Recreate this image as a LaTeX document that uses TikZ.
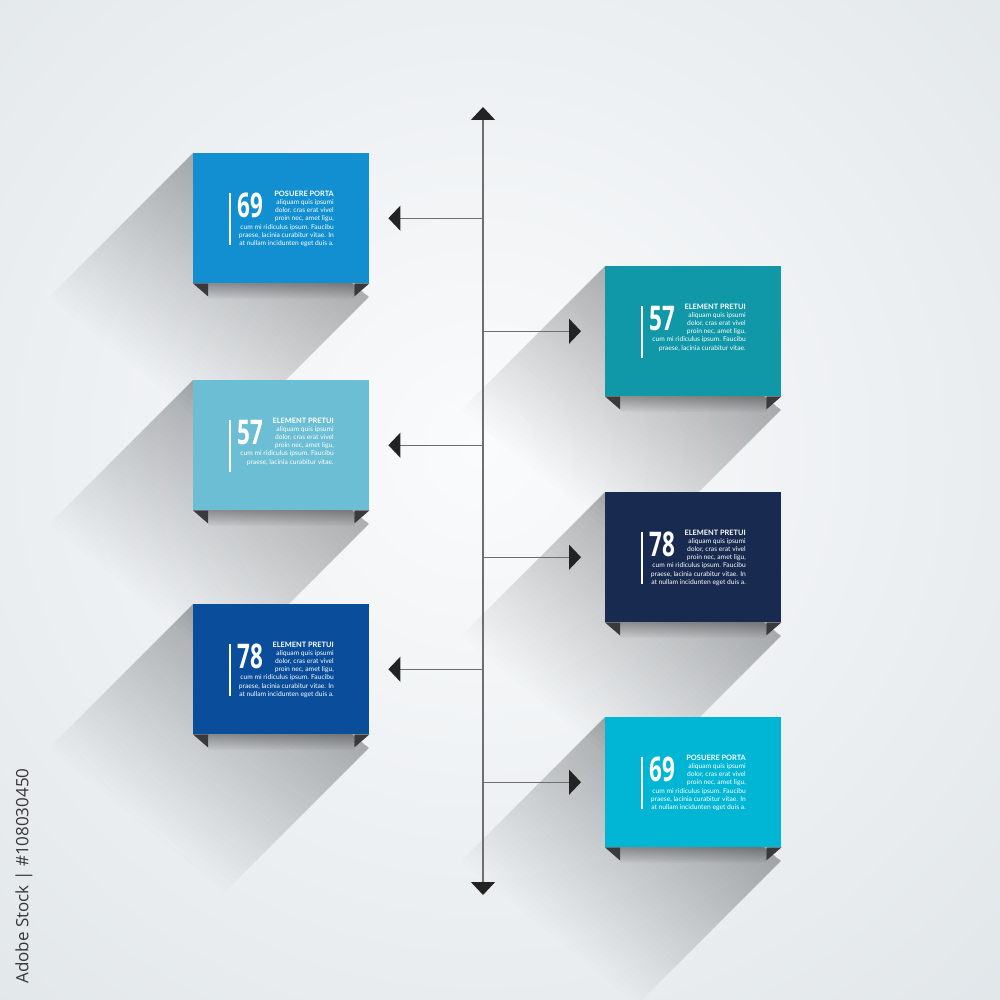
\documentclass[tikz,border=0pt]{standalone}
\usepackage{fontspec}
\setmainfont{Lato}
\newfontfamily\numfont{Open Sans}
\newfontfamily\sidefont{Open Sans}
\usetikzlibrary{arrows.meta,calc,fadings,positioning}
\definecolor{bgdark}{RGB}{208,216,221}
\definecolor{bglight}{RGB}{250,251,252}
\definecolor{boxa}{RGB}{18,143,208}
\definecolor{boxb}{RGB}{107,190,212}
\definecolor{boxc}{RGB}{10,78,155}
\definecolor{boxd}{RGB}{16,151,168}
\definecolor{boxe}{RGB}{24,42,80}
\definecolor{boxf}{RGB}{0,182,212}
\definecolor{foldc}{RGB}{58,58,60}
\definecolor{axisc}{RGB}{110,110,110}
\definecolor{tipc}{RGB}{35,35,35}
\definecolor{sidec}{RGB}{55,55,55}
\tikzset{
  card/.style={rectangle, minimum width=176pt, minimum height=130pt, inner sep=0pt, anchor=north west},
  numtxt/.style={text=white, font=\numfont\bfseries\fontsize{34}{34}\selectfont, inner sep=0pt, anchor=north west},
  bodytxt/.style={text=white, align=right, font=\fontsize{6.7}{8.1}\selectfont, inner sep=0pt, anchor=north east},
  axisline/.style={line width=1.3pt, draw=axisc},
  conn/.style={line width=1.2pt, draw=axisc, -{Triangle[length=12pt,width=25pt,color=tipc]}},
  fold/.style={fill=foldc},
  sidetxt/.style={text=sidec, font=\sidefont\fontsize{17}{17}\selectfont, rotate=90, inner sep=0pt}
}

\begin{document}
\begin{tikzpicture}[x=1pt,y=-1pt]
  \useasboundingbox (0,0) rectangle (1000,1000);
  \clip (0,0) rectangle (1000,1000);
  \shade[inner color=bglight,outer color=bgdark] (480,450) circle (1300);
  % long shadows
  \foreach \bx/\by in {193/153,193/380,193/604,605/266,605/492,605/717} {
    \foreach \k in {1,...,36}
      \fill[black,opacity=.006] (\bx,\by) -- (\bx+176,\by+144) -- ++(-4*\k,4*\k) -- (\bx-4*\k,\by+4*\k) -- cycle;
  }
  % time axis
  \coordinate (axtop) at (483,107);
  \coordinate (axbot) at (483,895);
  \draw[axisline,{Triangle[length=13pt,width=24pt,color=tipc]}-{Triangle[length=13pt,width=24pt,color=tipc]}] (axbot) -- (axtop);
  % cards
  \foreach \n/\bx/\by/\c/\num/\head/\last in {
    b1/193/153/boxa/69/{POSUERE PORTA}/{vitae. In\\at nullam incidunten eget duis a.},
    b2/193/380/boxb/57/{ELEMENT PRETUI}/{vitae.},
    b3/193/604/boxc/78/{ELEMENT PRETUI}/{vitae. In\\at nullam incidunten eget duis a.},
    b4/605/266/boxd/57/{ELEMENT PRETUI}/{vitae.},
    b5/605/492/boxe/78/{ELEMENT PRETUI}/{vitae. In\\at nullam incidunten eget duis a.},
    b6/605/717/boxf/69/{POSUERE PORTA}/{vitae. In\\at nullam incidunten eget duis a.}} {
    \node[card,fill=\c] (\n) at (\bx,\by) {};
    \fill[black,opacity=.3,path fading=south] ($(\n.south west)+(15,0)$) rectangle ($(\n.south east)+(-15,16)$);
    \fill[fold] (\n.south west) -- ++(15,0) -- ++(0,13) -- cycle;
    \fill[fold] (\n.south east) -- ++(-15,0) -- ++(0,13) -- cycle;
    \draw[white,line width=2pt] ($(\n.north west)+(37,40)$) -- +(0,52);
    \node[numtxt] (\n-num) at ($(\n.north west)+(44,40)$) {\scalebox{0.66}[1]{\num}};
    \node[bodytxt] (\n-txt) at ($(\n.north west)+(141,38)$) {{\fontsize{7.4}{8.1}\selectfont\bfseries\head}\\aliquam quis ipsumi\\dolor, cras erat vivel\\proin nec, amet ligu,\\cum mi ridiculus ipsum. Faucibu\\praese, lacinia curabitur \last};
  }
  % connectors
  \foreach \t/\s in {b1.east/19,b2.east/19,b3.east/19,b4.west/24,b5.west/24,b6.west/24}
    \draw[conn,shorten >=\s pt] (axtop |- \t) -- (\t);
  \node[sidetxt] (stock) at (24,876) {Adobe Stock | \#108030450};
\end{tikzpicture}
\end{document}
